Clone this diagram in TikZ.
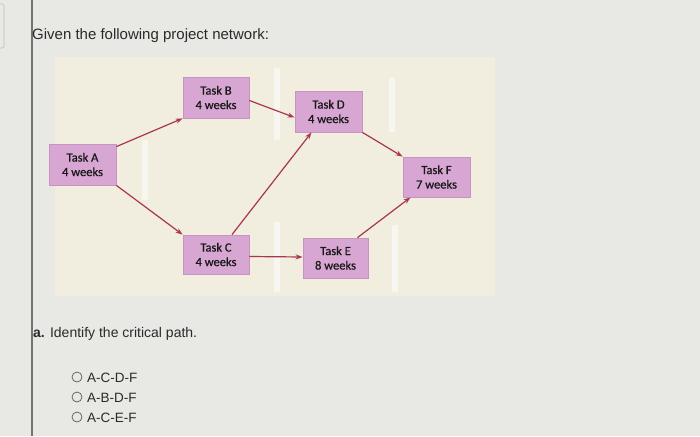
\documentclass[tikz,border=0pt]{standalone}
\usepackage{fontspec}
\setmainfont{Liberation Sans}
\newfontfamily\nodefont[FakeBold=0.8]{Carlito}
\usetikzlibrary{arrows.meta}
\definecolor{bg}{HTML}{E8E8E5}
\definecolor{panel}{HTML}{F1EDDF}
\definecolor{taskfill}{HTML}{D8A6D2}
\definecolor{taskedge}{HTML}{C892C1}
\definecolor{arrowc}{HTML}{A8364F}
\definecolor{txt}{HTML}{2A2A2A}
\tikzset{
  task/.style={draw=taskedge, line width=0.8pt, fill=taskfill, minimum width=66pt, minimum height=41pt,
    inner sep=1pt, align=center, font=\nodefont\fontsize{12.5}{14.5}\selectfont, text=black!90},
  conn/.style={draw=arrowc, line width=1.2pt, -{Stealth[length=7pt,width=5pt]}},
  radio/.style={circle, draw=black!60, line width=0.8pt, minimum size=10pt, inner sep=0pt},
  optlabel/.style={anchor=west, font=\fontsize{13.5}{15}\selectfont, text=txt, inner sep=0pt}
}
\begin{document}
\begin{tikzpicture}[x=1pt,y=-1pt]
\fill[bg] (0,0) rectangle (700,436);
\useasboundingbox (0,0) rectangle (700,436);
% left margin line and tab
\draw[black!55, line width=1.2pt] (32,0) -- (32,436);
\draw[black!25, line width=0.6pt, rounded corners=2pt] (-2,4) -- (4,4) -- (4,48) -- (-2,48);
% panel
\fill[panel] (55,57) rectangle (495,296);
% faint stripes (photo)
\foreach \x/\ya/\yb in {145/140/200, 277/68/140, 277/222/292, 392/78/132, 395/225/292}
  \fill[white, opacity=0.55] (\x-3,\ya) rectangle (\x+3,\yb);
% texts
\node[anchor=base west, inner sep=0pt, font=\fontsize{15}{17}\selectfont, text=txt] (title) at (32,40) {Given the following project network:};
% nodes
\node[task, minimum width=67pt] (A) at (82.5,164.5) {Task A\\4 weeks};
\node[task] (B) at (216,97.5) {Task B\\4 weeks};
\node[task, minimum height=39pt] (C) at (216,254.5) {Task C\\4 weeks};
\node[task, minimum width=67pt] (D) at (328.5,111.5) {Task D\\4 weeks};
\node[task, minimum width=65pt, minimum height=40pt] (E) at (335.5,258) {Task E\\8 weeks};
\node[task, minimum width=67pt, minimum height=40pt] (F) at (436.5,177) {Task F\\7 weeks};
% connectors
\draw[conn] (A.north east) ++(0,3) coordinate (a1) -- (B.south west);
\draw[conn] (A.south east) -- (C.north west);
\draw[conn] ([yshift=-3pt]B.east) -- ([yshift=-6pt]D.west);
\draw[conn] ([xshift=16pt]C.north) -- ([xshift=-17pt]D.south);
\draw[conn] ([yshift=-2pt]C.east) -- ([yshift=1pt]E.west);
\draw[conn] (D.south east) -- (F.north west);
\draw[conn] ([xshift=22pt]E.north) -- ([xshift=-26pt]F.south);
% question
\node[anchor=base west, inner sep=0pt, font=\fontsize{14}{16}\selectfont, text=txt] (q) at (33,337) {\textbf{a.} Identify the critical path.};
\node[radio] (r1) at (77,377) {};
\node[radio] (r2) at (77,397) {};
\node[radio] (r3) at (77,417) {};
\node[optlabel] (o1) at (87,377.5) {A-C-D-F};
\node[optlabel] (o2) at (87,397.5) {A-B-D-F};
\node[optlabel] (o3) at (87,417.5) {A-C-E-F};
\end{tikzpicture}
\end{document}
